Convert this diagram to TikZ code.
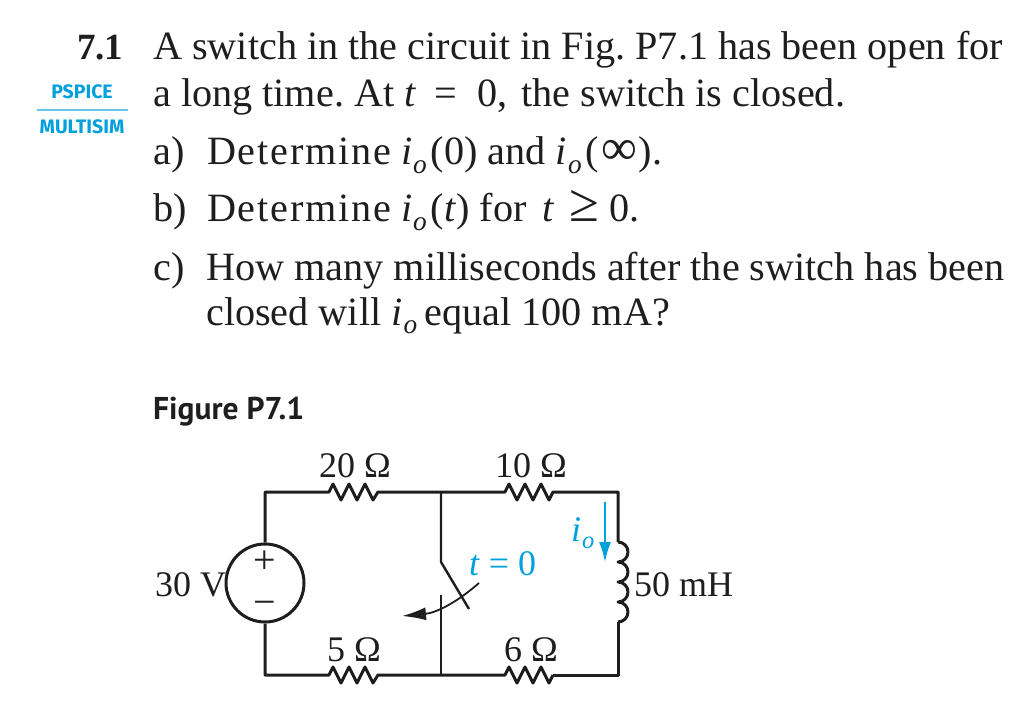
\documentclass[tikz,border=0pt]{standalone}
\usepackage{fontspec}
\usepackage{graphicx}
\setmainfont{Liberation Serif}
\newfontfamily\figfont{PT Sans}
\newfontfamily\tagfont{Fira Sans}
\usetikzlibrary{arrows.meta}
\definecolor{pcyan}{RGB}{0,160,220}
\definecolor{inkdark}{RGB}{30,30,30}
\newcommand{\io}{\textit{i}\kern1pt\raisebox{-0.2em}{\scalebox{0.68}{\textit{o}}}\kern4pt}
\newcommand{\detword}{{\addfontfeature{LetterSpace=4.4}Determine}}
\newcommand{\zig}{-- ++(4,-8) -- ++(8,16) -- ++(8,-16) -- ++(8,16) -- ++(8,-16) -- ++(8,16) --}
\tikzset{
  bodytext/.style={anchor=base west,inner sep=0pt,text=inkdark,font=\fontsize{40.2}{40.2}\selectfont\frenchspacing},
  valtext/.style={anchor=base,inner sep=0pt,text=inkdark,font=\fontsize{36}{36}\selectfont},
  tagtext/.style={anchor=base,inner sep=0pt,text=pcyan,font=\tagfont\bfseries\fontsize{19.5}{19.5}\selectfont},
  wire/.style={draw=inkdark,line width=3pt,line join=round},
  thinwire/.style={draw=inkdark,line width=2.4pt,line join=round}
}
\begin{document}
\begin{tikzpicture}[x=1pt,y=-1pt]
  \useasboundingbox (0,0) rectangle (1024,727);
  % problem text
  \node[bodytext,font=\bfseries\fontsize{37}{37}\selectfont] (num) at (77,60) {7.1};
  \node[tagtext] (pspice) at (82,99) {PSPICE};
  \node[tagtext] (multisim) at (82,134) {MULTISIM};
  \coordinate (ruleL) at (37,110);
  \coordinate (ruleR) at (128,110);
  \draw[pcyan!60,line width=1.6pt] (ruleL) -- (ruleR);
  \node[bodytext] (l1) at (153,60) {A switch in the circuit in Fig. P7.1 has been open for};
  \node[bodytext] (l2) at (153,107) {a long time. At \textit{t}\kern18pt=\kern20pt0,\kern4pt{} the switch is closed.};
  \node[bodytext] (a) at (153,165) {a)};
  \node[bodytext] (at) at (207,165) {\detword{} \io(0) and \io(\kern2pt\scalebox{1.25}{∞}\kern2pt).};
  \node[bodytext] (b) at (153,222) {b)};
  \node[bodytext] (bt) at (207,222) {\detword{} \io(\textit{t}) for\kern6pt{} \textit{t}\kern15pt\scalebox{1.35}{≥}\kern10pt0.};
  \node[bodytext] (c) at (153,280) {c)};
  \node[bodytext] (ct) at (206,280) {How many milliseconds after the switch has been};
  \node[bodytext] (ct2) at (206,325) {closed will \io\kern-7pt{} equal 100 mA?};
  \node[anchor=base west,inner sep=0pt,text=inkdark,font=\figfont\bfseries\fontsize{31.5}{31.5}\selectfont] (fig) at (153,419) {Figure P7.1};
  % circuit
  \node[circle,wire,minimum size=78pt,inner sep=0pt] (src) at (265,583) {};
  \node[inner sep=0pt,font=\fontsize{40}{40}\selectfont,text=inkdark] (plus) at (265,562) {+};
  \node[inner sep=0pt,font=\fontsize{40}{40}\selectfont,text=inkdark] (minus) at (265,608) {−};
  \coordinate (tl) at (265,492);
  \coordinate (bl) at (265,675);
  \coordinate (tm) at (441,492);
  \coordinate (bm) at (441,675);
  \coordinate (tr) at (618,492);
  \coordinate (br) at (618,675);
  \coordinate (r1a) at (329,492);
  \coordinate (r1b) at (378,492);
  \coordinate (r2a) at (505,492);
  \coordinate (r2b) at (553,492);
  \coordinate (r3a) at (329,675);
  \coordinate (r3b) at (378,675);
  \coordinate (r4a) at (505,675);
  \coordinate (r4b) at (553,675);
  \coordinate (la) at (618,542);
  \coordinate (lb) at (618,622);
  \coordinate (sw1) at (441,562);
  \coordinate (sw2) at (469,609);
  \coordinate (sw3) at (441,595);
  \draw[wire] (src) -- (tl) -- (r1a) \zig (r1b) -- (tm) -- (r2a) \zig (r2b) -- (tr) -- (la);
  \draw[wire] (la) arc (-90:90:10) arc (-90:90:10) arc (-90:90:10) arc (-90:90:10);
  \draw[wire] (lb) -- (br) -- (r4b);
  \draw[wire] (src) -- (bl) -- (r3a) \zig (r3b) -- (bm) -- (r4a) \zig (r4b);
  \draw[thinwire] (tm) -- (sw1) -- (sw2);
  \draw[thinwire] (sw3) -- (bm);
  \node[valtext] (r1) at (355,477) {20 Ω};
  \node[valtext] (r2) at (531,477) {10 Ω};
  \node[valtext] (r3) at (354,661) {5 Ω};
  \node[valtext] (r4) at (531,661) {6 Ω};
  \node[valtext,anchor=base west] (vs) at (155,596) {30 V};
  \node[valtext,anchor=base west] (ind) at (634,596) {50 mH};
  % switch and current labels
  \node[valtext,text=pcyan,anchor=base west] (t0) at (469,575) {\textit{t} = 0};
  \node[valtext,text=pcyan,anchor=base west] (iolab) at (571,541) {\io};
  \coordinate (swfrom) at (479,583);
  \coordinate (swto) at (402,616);
  \draw[-{Latex[length=24pt,width=13pt]},inkdark,line width=1.8pt] (swfrom) to[bend left=18] (swto);
  \coordinate (ioa) at (605,502);
  \coordinate (iob) at (605,562);
  \draw[-{Latex[length=20pt,width=12pt]},pcyan,line width=1.8pt] (ioa) -- (iob);
\end{tikzpicture}
\end{document}
